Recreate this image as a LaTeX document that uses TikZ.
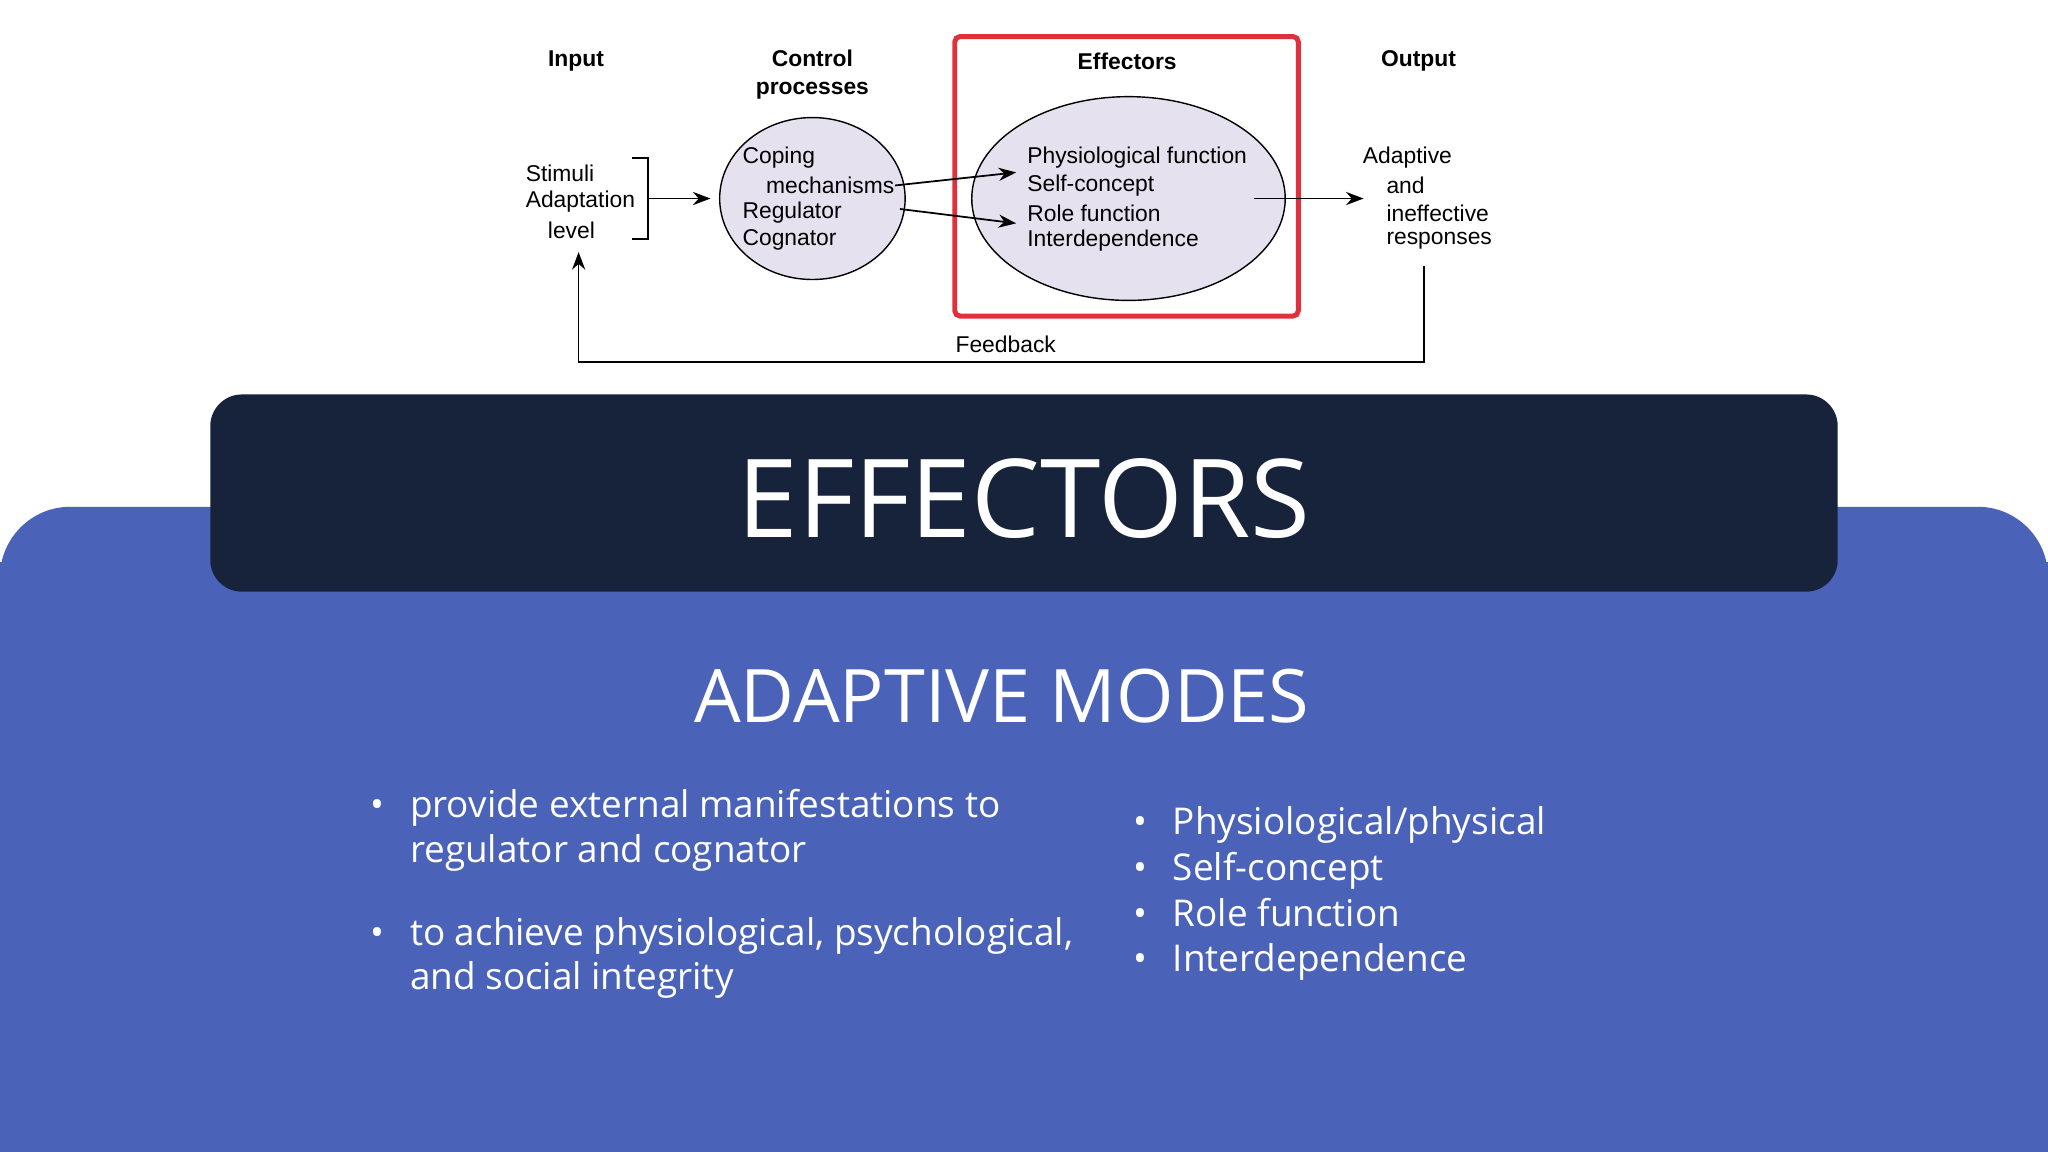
\documentclass[tikz,border=0pt]{standalone}
\usepackage{fontspec}
\setmainfont{Open Sans}
\newfontfamily\diagfont{Liberation Sans}
\usetikzlibrary{positioning,calc,arrows.meta}
\definecolor{slideblue}{HTML}{4A62B8}
\definecolor{darkbar}{HTML}{17233B}
\definecolor{lavender}{HTML}{E6E1EF}
\definecolor{boxred}{HTML}{E0303C}
\tikzset{
  head/.style={font=\diagfont\fontsize{6.5}{7.8}\selectfont\bfseries, align=center},
  dtext/.style={font=\diagfont\fontsize{6.5}{8.2}\selectfont, inner sep=0pt, anchor=west},
  flow/.style={draw, -{Stealth[length=5pt]}, line width=0.5pt},
  bul/.style={text=white, font=\fontsize{10.5}{12.6}\selectfont, anchor=north west, align=left, inner sep=0pt}
}
\begin{document}
\begin{tikzpicture}[x=0.013061cm, y=-0.013061cm]
\useasboundingbox (0,0) rectangle (1568,882);
% slide background
\fill[slideblue, rounded corners=20pt] (0,388) rectangle (1568,930);
\fill[slideblue] (0,430) rectangle (1568,882);
\fill[darkbar, rounded corners=9pt] (161,302) rectangle (1407,453);
\node[text=white, font=\fontsize{31}{36}\selectfont] (title) at (784,382) {EFFECTORS};
\node[text=white, font=\fontsize{21}{25}\selectfont] (modes) at (767,533) {ADAPTIVE MODES};
% bullets
\node[bul] (b1) at (283,604) {\textbullet\hspace{0.7em}\parbox[t]{8cm}{provide external manifestations to\\regulator and cognator}};
\node[bul] (b2) at (283,702) {\textbullet\hspace{0.7em}\parbox[t]{8cm}{to achieve physiological, psychological,\\and social integrity}};
\node[bul] (b3) at (867,617) {\textbullet\hspace{0.7em}Physiological/physical\\[0.4pt]\textbullet\hspace{0.7em}Self-concept\\[0.4pt]\textbullet\hspace{0.7em}Role function\\[0.4pt]\textbullet\hspace{0.7em}Interdependence};
% model diagram
\node[head] (input) at (441,47) {Input};
\node[head] (control) at (622,57) {Control\\processes};
\node[head] (effhead) at (863,47) {Effectors};
\node[head] (output) at (1086,47) {Output};
\draw[boxred, line width=1.4pt, rounded corners=1.5pt] (731,28) rectangle (994,242);
\draw[fill=lavender, line width=0.4pt] (622,152) ellipse [x radius=71, y radius=62];
\draw[fill=lavender, line width=0.4pt] (864,152) ellipse [x radius=120, y radius=78];
\node[dtext] (stim) at (402,133) {Stimuli};
\node[dtext] (adapt) at (402,154) {Adaptation};
\node[dtext] (level) at (419,176) {level};
\draw[line width=0.5pt] (484,121) -- (496,121) -- (496,183) -- (484,183);
\coordinate (brk) at (496,152);
\coordinate (cin) at (544,152);
\draw[flow] (brk) -- (cin);
\node[dtext] (coping) at (568,121) {Coping};
\node[dtext] (mech) at (586,142) {mechanisms};
\node[dtext] (reg) at (568,163) {Regulator};
\node[dtext] (cog) at (568,184) {Cognator};
\node[dtext] (phys) at (786,121) {Physiological function};
\node[dtext] (self) at (786,142) {Self-concept};
\node[dtext] (role) at (786,163) {Role function};
\node[dtext] (inter) at (786,184) {Interdependence};
\draw[flow] (mech.east) -- (778,132);
\draw[flow] (689,160) -- (778,171);
\coordinate (eout) at (960,152);
\coordinate (oin) at (1044,152);
\draw[flow] (eout) -- (oin);
\node[dtext] (adaptive) at (1043,121) {Adaptive};
\node[dtext] (and) at (1061,142) {and};
\node[dtext] (ineff) at (1061,163) {ineffective};
\node[dtext] (resp) at (1061,184) {responses};
\coordinate (fbstart) at (1090,204);
\coordinate (fbend) at (443,193);
\draw[flow] (fbstart) -- (1090,277) -- (443,277) -- (fbend);
\node[font=\diagfont\fontsize{6.5}{8}\selectfont, inner sep=0pt] (fb) at (770,264) {Feedback};
\end{tikzpicture}
\end{document}
